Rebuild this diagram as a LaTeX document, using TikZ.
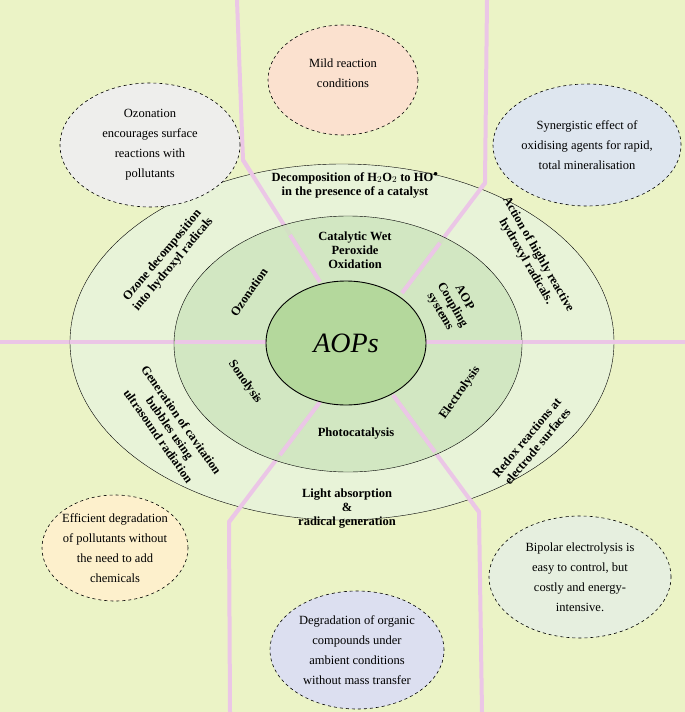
\documentclass[tikz,border=0pt]{standalone}
\usepackage{fontspec}
\setmainfont{Liberation Serif}
\usetikzlibrary{shapes.geometric}
\begin{document}
\begin{tikzpicture}[x=1pt,y=-1pt,
  note/.style={draw,dashed,ellipse,line width=0.6pt},
  lab/.style={font=\fontsize{12.5}{14}\selectfont\bfseries,align=center,inner sep=0pt},
  ntxt/.style={font=\fontsize{12.5}{20}\selectfont,align=center},
  pinkline/.style={line width=4pt,line join=round}]
\definecolor{bg}{HTML}{EBF3C6}
\definecolor{ring1}{HTML}{E8F4DC}
\definecolor{ring2}{HTML}{CFE5BF}
\definecolor{ring3}{HTML}{B4D89C}
\definecolor{pk}{HTML}{EBC6E6}
\definecolor{nblue}{HTML}{DEE6EF}
\definecolor{nlav}{HTML}{DCDFF0}
\definecolor{npeach}{HTML}{FBE1CF}
\definecolor{nyel}{HTML}{FDF0CC}
\definecolor{ngray}{HTML}{EEEEEC}
\definecolor{ngreen}{HTML}{E6EFDF}
\useasboundingbox (0,0) rectangle (685,712);
\fill[bg] (0,0) rectangle (685,712);
% pink separators
\draw[pinkline,draw=pk] (0,342) -- (685,342);
\draw[pinkline,draw=pk] (237,0) -- (243,160) -- (320,282);
\draw[pinkline,draw=pk] (487,0) -- (485,183) -- (402,293);
\draw[pinkline,draw=pk] (320,402) -- (229,522) -- (230,712);
\draw[pinkline,draw=pk] (393,395) -- (479,512) -- (482,712);
% rings
\path[draw,fill=ring1,fill opacity=0.85] (342,342) ellipse (272 and 178);
\draw[pinkline,draw=pk] (243,160) -- (320,282);
\draw[pinkline,draw=pk] (485,183) -- (402,293);
\draw[pinkline,draw=pk] (70,342) -- (615,342);
\draw[pinkline,draw=pk] (320,402) -- (229,522);
\draw[pinkline,draw=pk] (393,395) -- (479,512);
\path[draw,fill=ring2,fill opacity=0.85] (348,344) ellipse (174 and 128);
\draw[pinkline,draw=pk] (175,342) -- (522,342);
\draw[pinkline,draw=pk] (290,235) -- (320,282);
\draw[pinkline,draw=pk] (440,243) -- (402,293);
\draw[pinkline,draw=pk] (320,402) -- (280,455);
\draw[pinkline,draw=pk] (393,395) -- (435,452);
\node[draw,line width=0.9pt,fill=ring3,ellipse,minimum width=160,minimum height=124] (aop) at (346,343) {\fontsize{28}{30}\selectfont\itshape AOPs};
% notes
\node[note,fill=ngray,minimum width=180,minimum height=124] (n1) at (150,145) {};
\node[ntxt] at (150,145) {Ozonation\\encourages surface\\reactions with\\pollutants};
\node[note,fill=npeach,minimum width=150,minimum height=110] (n2) at (343,80) {};
\node[ntxt] at (343,73) {Mild reaction\\conditions};
\node[note,fill=nblue,minimum width=188,minimum height=122] (n3) at (587,145) {};
\node[ntxt] at (587,145) {Synergistic effect of\\oxidising agents for rapid,\\total mineralisation};
\node[note,fill=nyel,minimum width=146,minimum height=106] (n4) at (115,548) {};
\node[ntxt] at (115,548) {Efficient degradation\\of pollutants without\\the need to add\\chemicals};
\node[note,fill=nlav,minimum width=174,minimum height=118] (n5) at (357,650) {};
\node[ntxt] at (357,650) {Degradation of organic\\compounds under\\ambient conditions\\without mass transfer};
\node[note,fill=ngreen,minimum width=182,minimum height=122] (n6) at (580,577) {};
\node[ntxt] at (580,577) {Bipolar electrolysis is\\easy to control, but\\costly and energy-\\intensive.};
% outer ring labels
\node[lab] at (355,185) {Decomposition of H$_2$O$_2$ to HO$^\bullet$\\in the presence of a catalyst};
\node[lab,rotate=50] at (168,260) {Ozone decomposition\\into hydroxyl radicals};
\node[lab,rotate=-60] at (532,258) {Action of highly reactive\\hydroxyl radicals.};
\node[lab,rotate=-55] at (170,428) {Generation of cavitation\\bubbles using\\ultrasound radiation};
\node[lab,rotate=50] at (532,442) {Redox reactions at\\electrode surfaces};
\node[lab] at (347,509) {Light absorption\\\&\\radical generation};
% middle ring labels
\node[lab] at (355,250) {Catalytic Wet\\Peroxide\\Oxidation};
\node[lab,rotate=55] at (249,292) {Ozonation};
\node[lab,rotate=-60] at (452,305) {AOP\\Coupling\\systems};
\node[lab,rotate=-55] at (245,382) {Sonolysis};
\node[lab,rotate=55] at (460,393) {Electrolysis};
\node[lab] at (356,434) {Photocatalysis};
\end{tikzpicture}
\end{document}
